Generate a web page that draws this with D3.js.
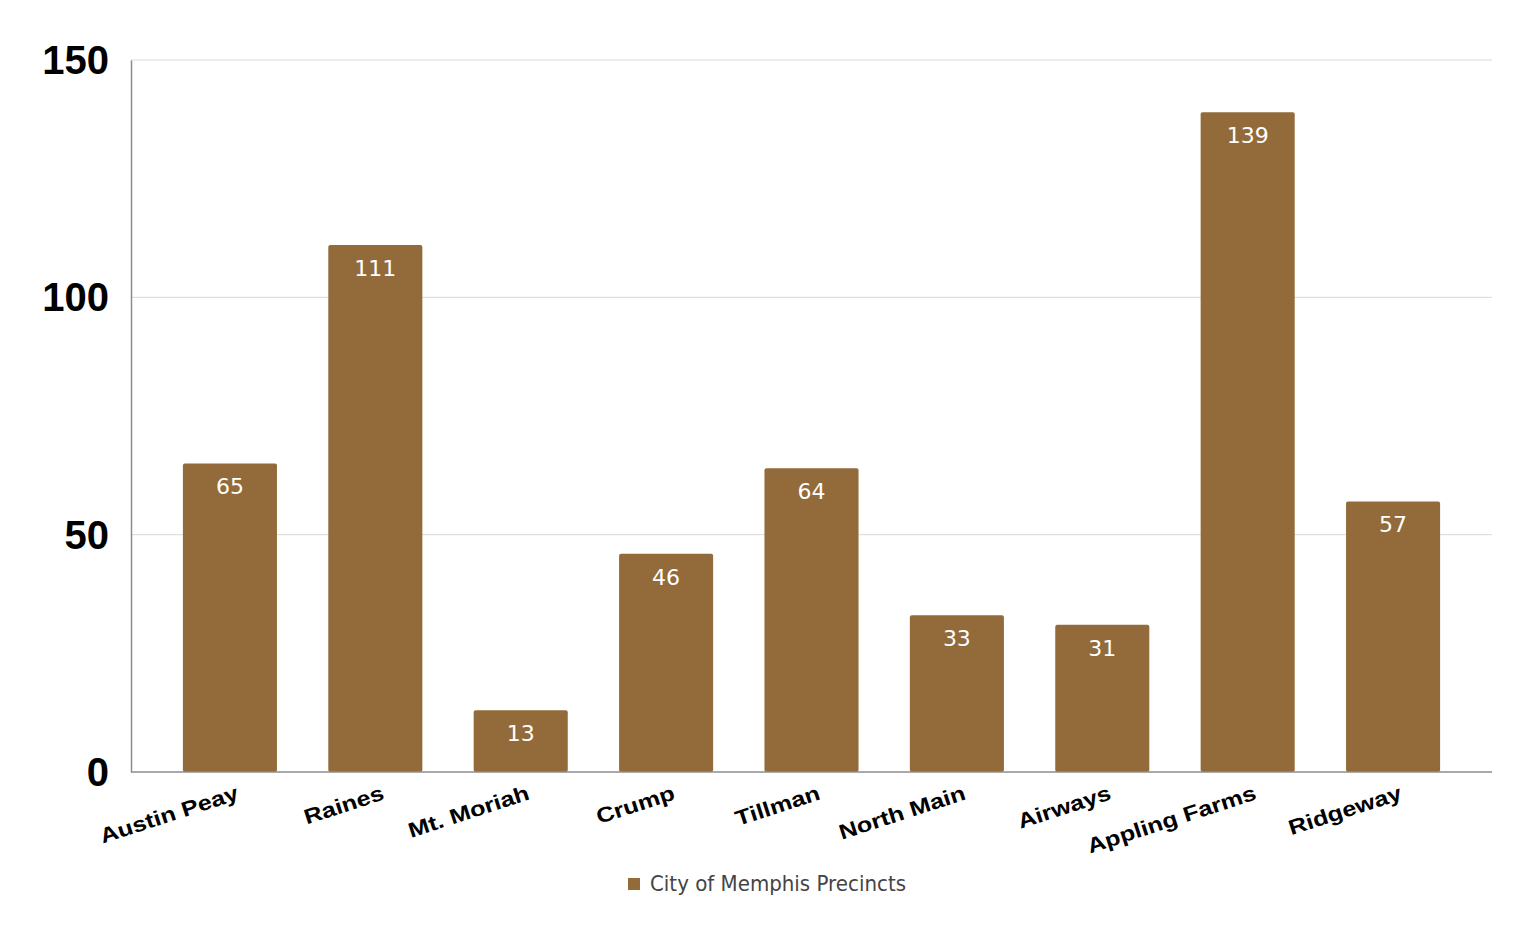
<!DOCTYPE html>
<html>
<head>
<meta charset="utf-8">
<script src="https://cdn.jsdelivr.net/npm/d3@7"></script>
<style>
  body { margin: 0; background: #fff; }
</style>
</head>
<body>
<div id="chart"></div>
<script>
// Data
const precincts = ["Austin Peay", "Raines", "Mt. Moriah", "Crump", "Tillman",
  "North Main", "Airways", "Appling Farms", "Ridgeway"];
const counts = [65, 111, 13, 46, 64, 33, 31, 139, 57];
const yTicks = [0, 50, 100, 150];
const seriesName = "City of Memphis Precincts";

const data = precincts.map((name, i) => ({ name, value: counts[i] }));

// Dimensions
const width = 1536;
const height = 939;
const margin = { top: 60, right: 44, bottom: 167, left: 131 };
const barColor = "#936b3a";

const svg = d3.select("#chart")
  .append("svg")
  .attr("width", width)
  .attr("height", height);

// Scales
const xScale = d3.scaleBand()
  .domain(precincts)
  .range([margin.left, width - margin.right])
  .paddingInner(0.353)
  .paddingOuter(0.357);

const yScale = d3.scaleLinear()
  .domain([0, 150])
  .range([height - margin.bottom, margin.top]);

// Gridlines
svg.append("g")
  .selectAll("line")
  .data(yTicks.filter((d) => d > 0))
  .enter()
  .append("line")
  .attr("x1", margin.left)
  .attr("x2", width - margin.right)
  .attr("y1", (d) => yScale(d))
  .attr("y2", (d) => yScale(d))
  .attr("stroke", "#d9d9d9")
  .attr("stroke-width", 1);

// Y axis
const yAxis = d3.axisLeft(yScale).tickValues(yTicks).tickSize(0).tickPadding(22);

svg.append("g")
  .attr("transform", `translate(${margin.left}, 0)`)
  .call(yAxis)
  .call((g) => g.select(".domain").attr("stroke", "#8c8c8c").attr("stroke-width", 1.5))
  .call((g) => g.selectAll("text")
    .attr("dy", "0.34em")
    .attr("font-family", "'Liberation Sans', Arial, sans-serif")
    .attr("font-weight", "bold")
    .attr("font-size", 40)
    .attr("fill", "#000"));

// Bars
svg.append("g")
  .selectAll("rect")
  .data(data)
  .enter()
  .append("rect")
  .attr("x", (d) => xScale(d.name))
  .attr("y", (d) => yScale(d.value))
  .attr("width", xScale.bandwidth())
  .attr("height", (d) => yScale(0) - yScale(d.value))
  .attr("rx", 2)
  .attr("fill", barColor);

// Value labels
svg.append("g")
  .selectAll("text")
  .data(data)
  .enter()
  .append("text")
  .attr("x", (d) => xScale(d.name) + xScale.bandwidth() / 2)
  .attr("y", (d) => yScale(d.value) + 31)
  .attr("text-anchor", "middle")
  .attr("font-family", "'DejaVu Sans', Tahoma, sans-serif")
  .attr("font-size", 22)
  .attr("fill", "#fff")
  .text((d) => d.value);

// X axis line
const xAxis = d3.axisBottom(xScale).tickSize(0).tickFormat("");

svg.append("g")
  .attr("transform", `translate(0, ${yScale(0)})`)
  .call(xAxis)
  .call((g) => g.select(".domain")
    .attr("stroke", "#8c8c8c")
    .attr("stroke-width", 1.5)
    .attr("d", `M${margin.left},0H${width - margin.right}`));

// Category labels (rotated)
svg.append("g")
  .selectAll("text")
  .data(precincts)
  .enter()
  .append("text")
  .attr("transform", (d) =>
    `translate(${xScale(d) + xScale.bandwidth() / 2 + 10}, ${yScale(0) + 27}) rotate(-18) scale(1.2, 1)`)
  .attr("text-anchor", "end")
  .attr("font-family", "'Liberation Sans', Arial, sans-serif")
  .attr("font-weight", "bold")
  .attr("font-size", 21)
  .attr("fill", "#000")
  .text((d) => d);

// Legend
const legend = svg.append("g").attr("id", "legend");

legend.append("rect")
  .attr("x", 628)
  .attr("y", 878)
  .attr("width", 12)
  .attr("height", 12)
  .attr("fill", barColor);

legend.append("text")
  .attr("x", 650)
  .attr("y", 891)
  .attr("font-family", "'DejaVu Sans', Tahoma, sans-serif")
  .attr("font-size", 21)
  .attr("fill", "#444")
  .attr("textLength", 256)
  .attr("lengthAdjust", "spacingAndGlyphs")
  .text(seriesName);
</script>
</body>
</html>
